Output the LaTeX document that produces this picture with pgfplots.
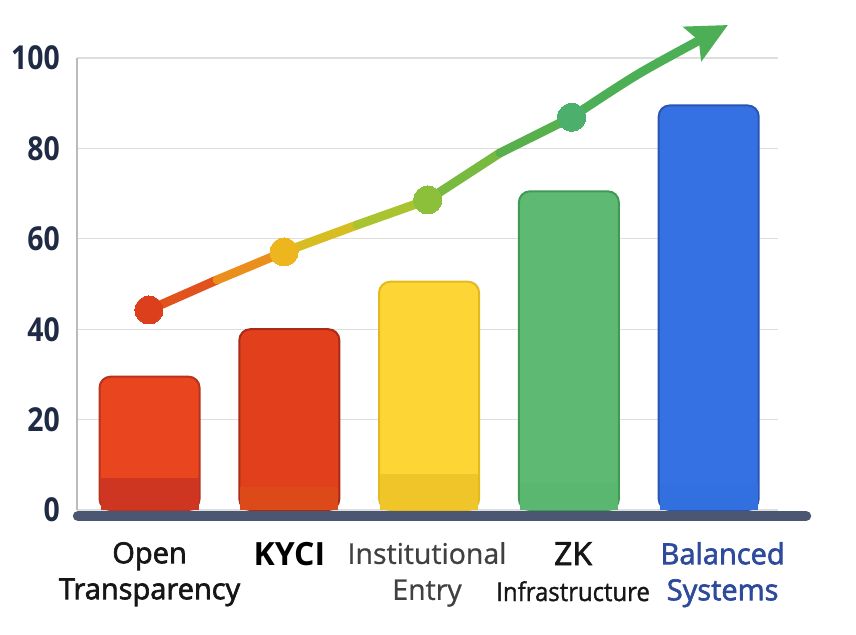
\documentclass[border=0pt]{standalone}
\usepackage{pgfplots}
\pgfplotsset{compat=1.18}
\usetikzlibrary{arrows.meta}
\usepackage{fontspec}
\setmainfont{Open Sans}
\newfontfamily\tickf[FakeStretch=0.86]{Open Sans}
\newfontfamily\labmed[FakeBold=2.2]{Open Sans}
\newfontfamily\labreg[FakeBold=0.8]{Open Sans}
\newfontfamily\labcond[FakeStretch=0.92,FakeBold=1.2]{Open Sans}

\definecolor{tickc}{HTML}{1F2B45}
\definecolor{gridc}{HTML}{DEDEDE}
\definecolor{axlc}{HTML}{BBBBBB}
\definecolor{basec}{HTML}{4B5672}
\definecolor{b1}{HTML}{E9461F}\definecolor{e1}{HTML}{B8321C}\definecolor{b1d}{HTML}{CF3621}
\definecolor{b2}{HTML}{E2401C}\definecolor{e2}{HTML}{A92B17}\definecolor{b2d}{HTML}{DC4A19}
\definecolor{b3}{HTML}{FDD535}\definecolor{e3}{HTML}{E2BA20}\definecolor{b3d}{HTML}{F0C52A}
\definecolor{b4}{HTML}{5EBA73}\definecolor{e4}{HTML}{3F9A55}\definecolor{b4d}{HTML}{5AB76F}
\definecolor{b5}{HTML}{3571E2}\definecolor{e5}{HTML}{2A55B5}\definecolor{b5d}{HTML}{3370DF}
\definecolor{l1}{HTML}{E2521C}\definecolor{l2}{HTML}{EA8F1B}
\definecolor{l3}{HTML}{D6BD22}\definecolor{l4}{HTML}{AAC331}
\definecolor{l5}{HTML}{78BA40}\definecolor{l6}{HTML}{58B04C}
\definecolor{l7}{HTML}{4CAF55}
\definecolor{m1}{HTML}{DC3F1C}\definecolor{m2}{HTML}{EDB51E}
\definecolor{m3}{HTML}{8CBF3A}\definecolor{m4}{HTML}{4DAF6C}
\definecolor{t1}{HTML}{161616}\definecolor{t3}{HTML}{404040}
\definecolor{t5}{HTML}{2E4A9A}

\begin{document}
\begin{tikzpicture}
\useasboundingbox (0,0) rectangle (856pt,634pt);
\begin{axis}[
  at={(77pt,124pt)}, anchor=south west,
  scale only axis, width=701pt, height=452pt,
  xmin=-0.519, xmax=4.496, ymin=0, ymax=100,
  clip=false,
  axis line style={draw=none},
  major tick length=0pt,
  ytick={0,20,40,60,80,100},
  ymajorgrids, grid style={color=gridc, line width=1.3pt},
  xtick={0,1,1.985,3.03,4.1},
  xticklabels={
    {\labmed\color{t1}Open\\\labmed\color{t1}Transparency},
    {\bfseries\fontsize{32}{36}\selectfont\color{black}KYCI},
    {\labreg\fontsize{28.5}{36}\selectfont\color{t3}Institutional\\\labreg\fontsize{28.5}{36}\selectfont\color{t3}Entry},
    {\labmed\fontsize{32}{36}\selectfont\color{t1}ZK\\\labcond\fontsize{26}{36}\selectfont\color{t1}Infrastructure},
    {\labmed\color{t5}Balanced\\\labmed\color{t5}Systems}
  },
  /pgf/number format/assume math mode=true,
  yticklabel style={font=\tickf\bfseries\fontsize{33}{36}\selectfont, text=tickc, anchor=east, inner sep=0pt, xshift=-17pt},
  xticklabel style={font=\fontsize{29}{36}\selectfont, align=center, anchor=north, inner sep=0pt, yshift=-32pt},
]
\draw[line width=1.5pt, axlc] (rel axis cs:0,0) -- (rel axis cs:0,1);

% bars
\addplot[ybar, bar width=100pt, bar shift=0pt, fill=b1, draw=e1, line width=2pt, rounded corners=11pt] coordinates {(0,29.5)};
\addplot[ybar, bar width=100pt, bar shift=0pt, fill=b2, draw=e2, line width=2pt, rounded corners=11pt] coordinates {(1,40)};
\addplot[ybar, bar width=100pt, bar shift=0pt, fill=b3, draw=e3, line width=2pt, rounded corners=11pt] coordinates {(2,50.5)};
\addplot[ybar, bar width=100pt, bar shift=0pt, fill=b4, draw=e4, line width=2pt, rounded corners=11pt] coordinates {(3,70.5)};
\addplot[ybar, bar width=100pt, bar shift=0pt, fill=b5, draw=e5, line width=2pt, rounded corners=11pt] coordinates {(4,89.5)};
% bottom bands
\addplot[ybar, bar width=98pt, bar shift=0pt, fill=b1d, draw=none] coordinates {(0,7)};
\addplot[ybar, bar width=98pt, bar shift=0pt, fill=b2d, draw=none] coordinates {(1,5)};
\addplot[ybar, bar width=98pt, bar shift=0pt, fill=b3d, draw=none] coordinates {(2,8)};
\addplot[ybar, bar width=98pt, bar shift=0pt, fill=b4d, draw=none] coordinates {(3,6)};
\addplot[ybar, bar width=98pt, bar shift=0pt, fill=b5d, draw=none] coordinates {(4,6)};

% baseline
\draw[line width=10.5pt, line cap=round, basec] (axis cs:-0.5114,-1.33) -- (axis cs:4.696,-1.33);

% trend line
\addplot[line width=9pt, line cap=round, l1, no marks] coordinates {(-0.004,44.25) (0.483,50.9)};
\addplot[line width=9pt, line cap=round, l2, no marks] coordinates {(0.483,50.9) (0.962,57.1)};
\addplot[line width=9pt, line cap=round, l3, no marks] coordinates {(0.962,57.1) (1.484,63.05)};
\addplot[line width=9pt, line cap=round, l4, no marks] coordinates {(1.484,63.05) (1.99,68.6)};
\addplot[line width=9pt, line cap=round, l5, no marks] coordinates {(1.99,68.6) (2.507,79.0)};
\addplot[line width=9pt, line cap=round, l6, no marks] coordinates {(2.507,79.0) (3.02,86.9)};
\addplot[line width=9pt, l7, no marks, smooth, -{Stealth[length=40pt, width=38pt, inset=7pt]}] coordinates {(3.02,86.9) (3.51,96.7) (4.138,107.3)};

% markers
\addplot[only marks, m1, mark=*, mark size=14pt, mark options={fill=m1, draw=m1, line width=0pt}] coordinates {(-0.004,44.25)};
\addplot[only marks, m2, mark=*, mark size=14pt, mark options={fill=m2, draw=m2, line width=0pt}] coordinates {(0.962,57.1)};
\addplot[only marks, m3, mark=*, mark size=14pt, mark options={fill=m3, draw=m3, line width=0pt}] coordinates {(1.99,68.6)};
\addplot[only marks, m4, mark=*, mark size=14pt, mark options={fill=m4, draw=m4, line width=0pt}] coordinates {(3.02,86.9)};
\end{axis}
\end{tikzpicture}
\end{document}
